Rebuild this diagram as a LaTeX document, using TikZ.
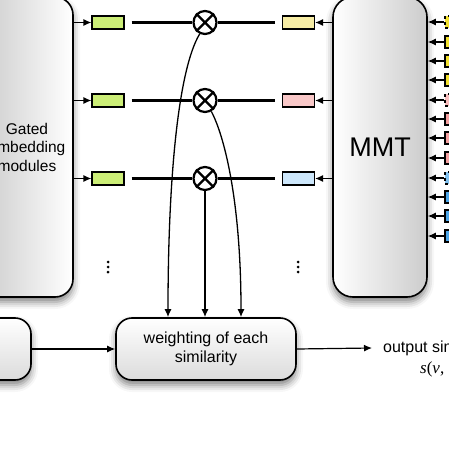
\documentclass[tikz,border=0pt]{standalone}
\usepackage{fontspec}
\setmainfont{Liberation Sans}
\newfontfamily\serifx{Liberation Serif}
\usetikzlibrary{arrows.meta,shadows.blur}
\definecolor{greenL}{HTML}{CCEE77}
\definecolor{yellowL}{HTML}{F7EDA5}
\definecolor{pinkL}{HTML}{F9C8C8}
\definecolor{blueL}{HTML}{CDE7FB}
\definecolor{rYellow}{HTML}{F2E030}
\definecolor{rPink}{HTML}{F4A0A0}
\definecolor{rBlue}{HTML}{4DA6E8}
\tikzset{
  bigbox/.style={draw, line width=1.6pt, inner sep=0pt,
    blur shadow={shadow xshift=0pt, shadow yshift=-5pt, shadow blur radius=7pt, shadow opacity=50}},
  lbox/.style={draw, line width=1.2pt, minimum width=32pt, minimum height=13pt, inner sep=0pt},
  rbox/.style={draw, line width=1.2pt, minimum width=15pt, minimum height=12pt, inner sep=0pt},
  otim/.style={circle, draw, line width=2.2pt, minimum size=23pt, inner sep=0pt},
  rowline/.style={line width=2.2pt},
  arr/.style={line width=1.2pt, -{Latex[length=8pt,width=7pt]}},
  curv/.style={line width=1.3pt, -{Latex[length=8pt,width=7pt]}}
}
\begin{document}
\begin{tikzpicture}[x=1pt,y=-1pt]
\useasboundingbox (0,0) rectangle (449,449);
% big boxes
\node[bigbox, rounded corners=18pt, left color=gray!40, right color=white,
  minimum width=92pt, minimum height=300pt, align=center,
  font=\fontsize{15.5}{18.5}\selectfont] (gem) at (27,147) {Gated\\embedding\\modules};
\node[bigbox, rounded corners=20pt, left color=white, right color=gray!40,
  minimum width=94pt, minimum height=300pt,
  font=\fontsize{27}{30}\selectfont] (mmt) at (380,147) {MMT};
\node[bigbox, rounded corners=16pt, top color=white, bottom color=gray!28,
  minimum width=180pt, minimum height=62pt, align=center,
  font=\fontsize{16}{18.5}\selectfont] (w) at (206,349) {weighting of each\\similarity};
\node[bigbox, rounded corners=16pt, top color=white, bottom color=gray!28,
  minimum width=62pt, minimum height=62pt] (lb) at (0,349) {};
% rows
\foreach \i/\y/\c in {1/22.5/yellowL, 2/100.5/pinkL, 3/178.5/blueL}{
  \node[lbox, fill=greenL] (g\i) at (108,\y) {};
  \node[lbox, fill=\c] (y\i) at (298.5,\y) {};
  \node[otim] (c\i) at (205,\y) {};
  \draw[line width=2.2pt] (c\i.45) -- (c\i.225) (c\i.135) -- (c\i.315);
  \draw[rowline] ([xshift=7pt]g\i.east) -- (c\i.west);
  \draw[rowline] (c\i.east) -- ([xshift=-7pt]y\i.west);
  \draw[arr] (g\i -| gem.east) -- (g\i.west);
  \draw[arr] (y\i -| mmt.west) -- (y\i.east);
}
% right small inputs
\foreach \i/\y/\c/\s in {1/22/rYellow/dashed, 2/42/rYellow/solid, 3/61/rYellow/solid, 4/80/rYellow/solid,
  5/100/rPink!70/dashed, 6/119/rPink/solid, 7/138/rPink/solid, 8/158/rPink/solid,
  9/178/rBlue!70/dashed, 10/197/rBlue/solid, 11/216/rBlue/solid, 12/236/rBlue/solid}{
  \node[rbox, fill=\c, \s] (r\i) at (452.5,\y) {};
  \draw[arr] (r\i.west) -- (r\i -| mmt.east);
}
% dots
\foreach \x in {108,298}{
  \foreach \yy in {262,267,272}{\fill (\x,\yy) circle (1.5pt);}
}
% curves into weighting
\draw[curv] (c1.245) .. controls (178,70) and (168,180) .. ([xshift=-38pt]w.north);
\draw[curv] (c2.300) .. controls (224,135) and (241,200) .. ([xshift=35pt]w.north);
\draw[curv] (c3.south) -- (c3.south |- w.north);
% bottom
\draw[arr] (lb.east) -- (w.west);
\node[anchor=west, inner sep=0pt, font=\fontsize{16}{18}\selectfont] (out) at (383,348) {output similarity};
\draw[arr] (w.east) -- ([xshift=-11pt]out.west);
\node[anchor=west, inner sep=0pt, font=\serifx\fontsize{17}{20}\selectfont] (sv) at (420,369) {\textit{s}(\textit{v}, \textit{c})};
\end{tikzpicture}
\end{document}
